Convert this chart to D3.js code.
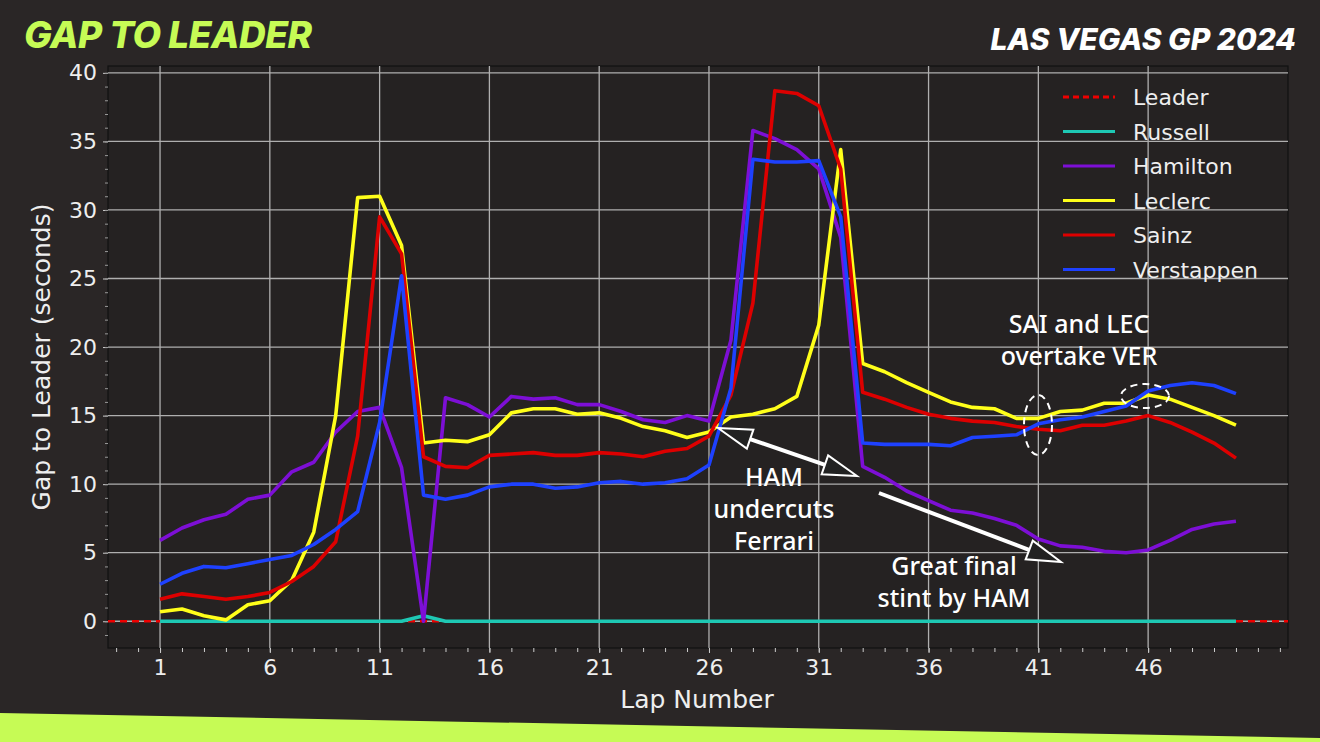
<!DOCTYPE html>
<html>
<head>
<meta charset="utf-8">
<script src="https://cdn.jsdelivr.net/npm/d3@7"></script>
<style>
  body { margin: 0; background: #2a2626; }
  svg { display: block; }
</style>
</head>
<body>
<svg id="chart" width="1320" height="742"></svg>
<script>
const laps = d3.range(1, 51);
const russell = [0,0,0,0,0,0,0,0,0,0,0,0,0.4,0,0,0,0,0,0,0,0,0,0,0,0,0,0,0,0,0,0,0,0,0,0,0,0,0,0,0,0,0,0,0,0,0,0,0,0,0];
const hamilton = [5.9,6.8,7.4,7.8,8.9,9.2,10.9,11.6,13.8,15.3,15.6,11.2,0,16.3,15.8,14.9,16.4,16.2,16.3,15.8,15.8,15.3,14.7,14.5,15.0,14.6,20.5,35.8,35.2,34.4,33.0,28.0,11.3,10.5,9.5,8.8,8.1,7.9,7.5,7.0,6.0,5.5,5.4,5.1,5.0,5.2,5.9,6.7,7.1,7.3];
const leclerc = [0.7,0.9,0.4,0.1,1.2,1.5,3.0,6.5,15.0,30.9,31.0,27.4,13.0,13.2,13.1,13.6,15.2,15.5,15.5,15.1,15.2,14.8,14.2,13.9,13.4,13.8,14.9,15.1,15.5,16.4,21.6,34.4,18.8,18.2,17.4,16.7,16.0,15.6,15.5,14.8,14.8,15.3,15.4,15.9,15.9,16.5,16.2,15.6,15.0,14.3];
const sainz = [1.6,2.0,1.8,1.6,1.8,2.1,2.9,4.0,5.8,13.5,29.5,26.8,12.0,11.3,11.2,12.1,12.2,12.3,12.1,12.1,12.3,12.2,12.0,12.4,12.6,13.5,16.5,23.2,38.7,38.5,37.6,33.0,16.7,16.2,15.6,15.1,14.8,14.6,14.5,14.2,14.0,13.9,14.3,14.3,14.6,15.0,14.5,13.8,13.0,11.9];
const verstappen = [2.7,3.5,4.0,3.9,4.2,4.5,4.8,5.6,6.7,8.0,14.5,25.2,9.2,8.9,9.2,9.8,10.0,10.0,9.7,9.8,10.1,10.2,10.0,10.1,10.4,11.4,17.0,33.7,33.5,33.5,33.6,29.5,13.0,12.9,12.9,12.9,12.8,13.4,13.5,13.6,14.4,14.7,14.9,15.3,15.7,16.8,17.2,17.4,17.2,16.6];
const xTicks = [1, 6, 11, 16, 21, 26, 31, 36, 41, 46];
const yTicks = [0, 5, 10, 15, 20, 25, 30, 35, 40];

const drivers = [
  { name: "Russell", color: "#1ec8b4", values: russell },
  { name: "Hamilton", color: "#7d0fd6", values: hamilton },
  { name: "Leclerc", color: "#ffff1a", values: leclerc },
  { name: "Sainz", color: "#dd0000", values: sainz },
  { name: "Verstappen", color: "#1e41ff", values: verstappen }
];

const svg = d3.select("#chart");
const m = { left: 108, right: 1288, top: 66, bottom: 648 };

// bottom green band
svg.append("path")
  .attr("d", `M0,713 L1320,738 L1320,742 L0,742 Z`)
  .attr("fill", "#c6fb55");

svg.append("text").attr("x", 24).attr("y", 48)
  .attr("fill", "#c6fb55").style("font-family", "Inter").style("font-weight", 800)
  .style("font-style", "italic").style("font-size", "37px").style("letter-spacing", "-0.5px")
  .text("GAP TO LEADER");
svg.append("text").attr("x", 1296).attr("y", 50).attr("text-anchor", "end")
  .attr("fill", "#fff").style("font-family", "Inter").style("font-weight", 800)
  .style("font-style", "italic").style("font-size", "30px").text("LAS VEGAS GP 2024");

const x = d3.scaleLinear().domain([-1.37, 52.37]).range([m.left, m.right]);
const y = d3.scaleLinear().domain([-1.95, 40.5]).range([m.bottom, m.top]);

svg.append("rect").attr("x", m.left).attr("y", m.top)
  .attr("width", m.right - m.left).attr("height", m.bottom - m.top)
  .attr("fill", "#252222").attr("stroke", "#111").attr("stroke-width", 1.2);

// grid
const grid = svg.append("g").attr("stroke", "#c8c8c8").attr("stroke-width", 1.3).attr("opacity", 0.85);
grid.selectAll(".gx").data(xTicks).join("line")
  .attr("x1", d => x(d)).attr("x2", d => x(d)).attr("y1", m.top).attr("y2", m.bottom);
grid.selectAll(".gy").data(yTicks).join("line")
  .attr("y1", d => y(d)).attr("y2", d => y(d)).attr("x1", m.left).attr("x2", m.right);

// axes
const tickFont = g => g.selectAll("text").attr("fill", "#eee")
  .style("font-family", "DejaVu Sans").style("font-size", "22px");
const xAxis = svg.append("g").attr("transform", `translate(0,${m.bottom})`)
  .call(d3.axisBottom(x).tickValues(xTicks).tickSize(5).tickPadding(6));
xAxis.call(tickFont);
xAxis.select(".domain").remove();
xAxis.selectAll("line").attr("stroke", "#ccc");
svg.append("g").attr("transform", `translate(0,${m.bottom})`)
  .call(d3.axisBottom(x).tickValues(d3.range(-1, 53)).tickSize(4).tickFormat(""))
  .call(g => g.select(".domain").remove())
  .selectAll("line").attr("stroke", "#ccc");

const yAxis = svg.append("g").attr("transform", `translate(${m.left},0)`)
  .call(d3.axisLeft(y).tickValues(yTicks).tickSize(5).tickPadding(6));
yAxis.call(tickFont);
yAxis.select(".domain").remove();
yAxis.selectAll("line").attr("stroke", "#ccc");
svg.append("g").attr("transform", `translate(${m.left},0)`)
  .call(d3.axisLeft(y).tickValues(d3.range(-1, 41)).tickSize(3).tickFormat(""))
  .call(g => g.select(".domain").remove())
  .selectAll("line").attr("stroke", "#999");

svg.append("text").attr("x", (m.left + m.right) / 2 - 1).attr("y", 708).attr("text-anchor", "middle")
  .attr("fill", "#eee").style("font-family", "DejaVu Sans").style("font-size", "25px").text("Lap Number");
svg.append("text").attr("transform", `translate(50,${(m.top + m.bottom) / 2}) rotate(-90)`)
  .attr("text-anchor", "middle").attr("fill", "#eee")
  .style("font-family", "DejaVu Sans").style("font-size", "25px").text("Gap to Leader (seconds)");

// leader line
svg.append("line").attr("x1", m.left).attr("x2", m.right).attr("y1", y(0)).attr("y2", y(0))
  .attr("stroke", "#e00").attr("stroke-width", 2.5).attr("stroke-dasharray", "7,5");

const line = d3.line().x((d, i) => x(laps[i])).y(d => y(d));
svg.append("g").selectAll("path").data(drivers).join("path")
  .attr("d", d => line(d.values)).attr("fill", "none")
  .attr("stroke", d => d.color).attr("stroke-width", 3.6).attr("stroke-linejoin", "round");

// legend
const leg = svg.append("g").attr("transform", "translate(1063,97)");
const legItems = [{ name: "Leader", color: "#e00", dash: true }].concat(drivers);
legItems.forEach((d, i) => {
  const g = leg.append("g").attr("transform", `translate(0,${i * 34.5})`);
  g.append("line").attr("x1", 0).attr("x2", 52).attr("stroke", d.color).attr("stroke-width", 3)
    .attr("stroke-dasharray", d.dash ? "6,4" : null);
  g.append("text").attr("x", 70).attr("y", 8).attr("fill", "#eee")
    .style("font-family", "DejaVu Sans").style("font-size", "22px").text(d.name);
});

// annotations
function ann(lines, cx, cy, lh) {
  const t = svg.append("text").attr("text-anchor", "middle").attr("fill", "#fff")
    .style("font-family", "Noto Sans").style("font-size", "25px").style("font-weight", 500);
  lines.forEach((l, i) => t.append("tspan").attr("x", cx).attr("y", cy + i * lh).text(l));
}
ann(["HAM", "undercuts", "Ferrari"], 774, 486, 32);
ann(["Great final", "stint by HAM"], 954, 575, 32);
ann(["SAI and LEC", "overtake VER"], 1079, 333, 32);

function arrowHead(tx, ty, fx, fy) {
  const a = Math.atan2(ty - fy, tx - fx);
  const L = 34, Wd = 10;
  const bx = tx - L * Math.cos(a), by = ty - L * Math.sin(a);
  const px = -Math.sin(a) * Wd, py = Math.cos(a) * Wd;
  svg.append("path")
    .attr("d", `M${tx},${ty} L${bx + px},${by + py} L${bx - px},${by - py} Z`)
    .attr("fill", "#222").attr("stroke", "#fff").attr("stroke-width", 2);
}
function arrow(fx, fy, tx, ty, both) {
  const a = Math.atan2(ty - fy, tx - fx);
  const s = both ? 30 : 0;
  svg.append("line").attr("x1", fx + s * Math.cos(a)).attr("y1", fy + s * Math.sin(a))
    .attr("x2", tx - 30 * Math.cos(a)).attr("y2", ty - 30 * Math.sin(a))
    .attr("stroke", "#fff").attr("stroke-width", 4);
  arrowHead(tx, ty, fx, fy);
  if (both) arrowHead(fx, fy, tx, ty);
}
arrow(718, 428, 857, 476, true);
arrow(879, 493, 1061, 562, false);

svg.append("ellipse").attr("cx", 1038).attr("cy", 425).attr("rx", 14).attr("ry", 30)
  .attr("fill", "none").attr("stroke", "#fff").attr("stroke-width", 2).attr("stroke-dasharray", "7,5");
svg.append("ellipse").attr("cx", 1145).attr("cy", 396).attr("rx", 24).attr("ry", 12)
  .attr("fill", "none").attr("stroke", "#fff").attr("stroke-width", 2).attr("stroke-dasharray", "7,5");
</script>
</body>
</html>
